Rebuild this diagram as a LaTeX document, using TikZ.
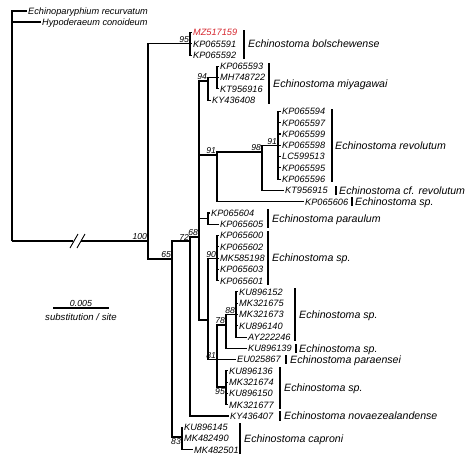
\documentclass[tikz,border=0pt]{standalone}
\usepackage{fontspec}
\setmainfont{Liberation Sans}
\usepackage{xcolor}
\usepackage{tikz}
\definecolor{mzred}{RGB}{214,38,46}

\begin{document}
\begin{tikzpicture}[x=1pt,y=-1pt,
    branch/.style={line width=1.1pt},
    cladebar/.style={line width=2.8pt},
    tip/.style={anchor=west,inner xsep=1.5pt,inner ysep=0pt,text height=6.6pt,text depth=0pt,font=\fontsize{9.2}{10}\selectfont\itshape},
    species/.style={anchor=west,inner sep=0pt,text height=7.6pt,text depth=0pt,font=\fontsize{10.6}{12}\selectfont\itshape},
    boot/.style={anchor=south east,inner sep=0.8pt,font=\fontsize{8.6}{9}\selectfont\itshape},
    bootlow/.style={anchor=north east,inner sep=1pt,font=\fontsize{8.6}{9}\selectfont\itshape}]
    \useasboundingbox (0,0) rectangle (474,463);

    % outgroup and root
    \coordinate (root) at (12,241);
    \coordinate (brkA) at (73,241);
    \coordinate (brkB) at (81,241);
    \coordinate (n100) at (148,241);
    \node[tip] (ER) at (26.5,11) {Echinoparyphium recurvatum};
    \node[tip] (HC) at (40.5,22) {Hypoderaeum conoideum};
    \draw[branch] (root) |- (ER.west);
    \draw[branch] (root) |- (HC.west);
    \draw[branch] (root) -- (brkA);
    \draw[branch] (brkB) -- (n100);
    \draw[line width=0.9pt] ([shift={(-3,7)}]brkA) -- ([shift={(5,-7)}]brkA);
    \draw[line width=0.9pt] ([shift={(-4,7)}]brkB) -- ([shift={(4,-7)}]brkB);
    \node[boot] at (n100) {100};

    % bolschewense
    \coordinate (n95) at (190,43.8);
    \draw[branch] (n100) |- (n95);
    \node[boot] at (n95) {95};
    \node[tip,text=mzred] (MZ517159) at (191.5,32.5) {MZ517159};
    \node[tip] (KP065591) at (191.5,43.8) {KP065591};
    \node[tip] (KP065592) at (191.5,55.1) {KP065592};
    \foreach \t in {MZ517159,KP065591,KP065592}
        \draw[branch] (n95) |- (\t.west);
    \draw[cladebar] (244,30) -- (244,59);
    \node[species] (bolschewense) at (248,44) {Echinostoma bolschewense};

    \coordinate (n65) at (172,259);
    \coordinate (n72) at (190,241);
    \coordinate (n68) at (199,237);
    \draw[branch] (n100) |- (n65);
    \draw[branch] (n65) |- (n72);
    \draw[branch] (n72) |- (n68);
    \node[boot] at (n65) {65};
    \node[boot] at (n72) {72};
    \node[boot] at (n68) {68};

    % miyagawai
    \coordinate (n94) at (208,81);
    \coordinate (nMi) at (217,77.6);
    \draw[branch] (n68) |- (n94);
    \draw[branch] (n94) |- (nMi);
    \node[boot] at (n94) {94};
    \node[tip] (KP065593) at (218.5,66.3) {KP065593};
    \node[tip] (MH748722) at (218.5,77.6) {MH748722};
    \node[tip] (KT956916) at (218.5,88.9) {KT956916};
    \node[tip] (KY436408) at (210.5,100.2) {KY436408};
    \foreach \t in {KP065593,MH748722,KT956916}
        \draw[branch] (nMi) |- (\t.west);
    \draw[branch] (n94) |- (KY436408.west);
    \draw[cladebar] (269,63) -- (269,104);
    \node[species] (miyagawai) at (273,83.3) {Echinostoma miyagawai};

    % revolutum
    \coordinate (n91a) at (217,155);
    \coordinate (n98) at (262,152);
    \coordinate (n91b) at (278,145.3);
    \draw[branch] (n68) |- (n91a);
    \draw[branch] (n91a) |- (n98);
    \draw[branch] (n98) |- (n91b);
    \node[boot] at (n91a) {91};
    \node[boot] at (n98) {98};
    \node[boot] at (n91b) {91};
    \node[tip] (KP065594) at (280.5,111.5) {KP065594};
    \node[tip] (KP065597) at (280.5,122.7) {KP065597};
    \node[tip] (KP065599) at (280.5,134.0) {KP065599};
    \node[tip] (KP065598) at (280.5,145.3) {KP065598};
    \node[tip] (LC599513) at (280.5,156.6) {LC599513};
    \node[tip] (KP065595) at (280.5,167.9) {KP065595};
    \node[tip] (KP065596) at (280.5,179.1) {KP065596};
    \foreach \t in {KP065594,KP065597,KP065599,KP065598,LC599513,KP065595,KP065596}
        \draw[branch] (n91b) |- (\t.west);
    \node[tip] (KT956915) at (283.5,190.4) {KT956915};
    \node[tip] (KP065606) at (303.5,201.7) {KP065606};
    \draw[branch] (n98) |- (KT956915.west);
    \draw[branch] (n91a) |- (KP065606.west);
    \draw[cladebar] (332,109) -- (332,182);
    \node[species] (revolutum) at (335,145.3) {Echinostoma revolutum};
    \draw[cladebar] (336,186) -- (336,195);
    \node[species] (cfrevolutum) at (339,190.4) {Echinostoma cf. revolutum};
    \draw[cladebar] (352,197) -- (352,206);
    \node[species] (spA) at (355,201.7) {Echinostoma sp.};

    % paraulum
    \coordinate (nPar) at (208,218.6);
    \draw[branch] (n68) |- (nPar);
    \node[tip] (KP065604) at (209.5,213.0) {KP065604};
    \node[tip] (KP065605) at (218.5,224.3) {KP065605};
    \draw[branch] (nPar) |- (KP065604.west);
    \draw[branch] (nPar) |- (KP065605.west);
    \draw[cladebar] (268,209) -- (268,228);
    \node[species] (paraulum) at (272,218.6) {Echinostoma paraulum};

    \coordinate (nX) at (208,320);
    \draw[branch] (n68) |- (nX);

    % sp. (90)
    \coordinate (n90) at (217,258.1);
    \draw[branch] (nX) |- (n90);
    \node[boot] at (n90) {90};
    \node[tip] (KP065600) at (218.5,235.5) {KP065600};
    \node[tip] (KP065602) at (218.5,246.8) {KP065602};
    \node[tip] (MK585198) at (218.5,258.1) {MK585198};
    \node[tip] (KP065603) at (218.5,269.4) {KP065603};
    \node[tip] (KP065601) at (218.5,280.7) {KP065601};
    \foreach \t in {KP065600,KP065602,MK585198,KP065603,KP065601}
        \draw[branch] (n90) |- (\t.west);
    \draw[cladebar] (268,231) -- (268,285);
    \node[species] (spB) at (272,258.1) {Echinostoma sp.};

    % 81 group
    \coordinate (n81) at (217,359.6);
    \coordinate (n78) at (226,325);
    \coordinate (n88) at (236,314.5);
    \coordinate (n95b) at (226,387);
    \draw[branch] (nX) |- (n81);
    \draw[branch] (n81) |- (n78);
    \draw[branch] (n78) |- (n88);
    \draw[branch] (n81) |- (n95b);
    \node[boot] at (n81) {81};
    \node[boot] at (n78) {78};
    \node[boot] at (n88) {88};
    \node[bootlow] at (n95b) {95};
    \node[tip] (KU896152) at (237.5,291.9) {KU896152};
    \node[tip] (MK321675) at (237.5,303.2) {MK321675};
    \node[tip] (MK321673) at (237.5,314.5) {MK321673};
    \node[tip] (KU896140) at (237.5,325.8) {KU896140};
    \node[tip] (AY222246) at (246.5,337.1) {AY222246};
    \foreach \t in {KU896152,MK321675,MK321673,KU896140,AY222246}
        \draw[branch] (n88) |- (\t.west);
    \node[tip] (KU896139) at (246.5,348.3) {KU896139};
    \draw[branch] (n78) |- (KU896139.west);
    \node[tip] (EU025867) at (235.5,359.6) {EU025867};
    \draw[branch] (n81) -- (EU025867.west);
    \node[tip] (KU896136) at (227.5,370.9) {KU896136};
    \node[tip] (MK321674) at (227.5,382.2) {MK321674};
    \node[tip] (KU896150) at (227.5,393.5) {KU896150};
    \node[tip] (MK321677) at (227.5,404.7) {MK321677};
    \foreach \t in {KU896136,MK321674,KU896150,MK321677}
        \draw[branch] (n95b) |- (\t.west);
    \draw[cladebar] (295,288) -- (295,341);
    \node[species] (spC) at (299,314.5) {Echinostoma sp.};
    \draw[cladebar] (296,344) -- (296,353);
    \node[species] (spD) at (299,348.3) {Echinostoma sp.};
    \draw[cladebar] (286,355) -- (286,364);
    \node[species] (paraensei) at (290,359.6) {Echinostoma paraensei};
    \draw[cladebar] (280,367) -- (280,409);
    \node[species] (spE) at (284,387.8) {Echinostoma sp.};

    % novaezealandense
    \node[tip] (KY436407) at (228.5,416.0) {KY436407};
    \draw[branch] (n72) |- (KY436407.west);
    \draw[cladebar] (280,411) -- (280,421);
    \node[species] (novaezealandense) at (284,416.0) {Echinostoma novaezealandense};

    % caproni
    \coordinate (n83) at (182,437);
    \draw[branch] (n65) |- (n83);
    \node[bootlow] at (n83) {83};
    \node[tip] (KU896145) at (182.5,427.3) {KU896145};
    \node[tip] (MK482490) at (182.5,438.6) {MK482490};
    \node[tip] (MK482501) at (192.5,449.9) {MK482501};
    \foreach \t in {KU896145,MK482490,MK482501}
        \draw[branch] (n83) |- (\t.west);
    \draw[cladebar] (240,423) -- (240,454);
    \node[species] (caproni) at (244,438.6) {Echinostoma caproni};

    % scale
    \coordinate (sbL) at (53,308);
    \coordinate (sbR) at (109,308);
    \draw[line width=2.4pt] (sbL) -- (sbR);
    \node[font=\fontsize{8.8}{10}\selectfont\itshape,anchor=base] (sbval) at (81,306) {0.005};
    \node[font=\fontsize{9.6}{11}\selectfont\itshape,anchor=base] (sbunit) at (81,320) {substitution / site};
\end{tikzpicture}
\end{document}
